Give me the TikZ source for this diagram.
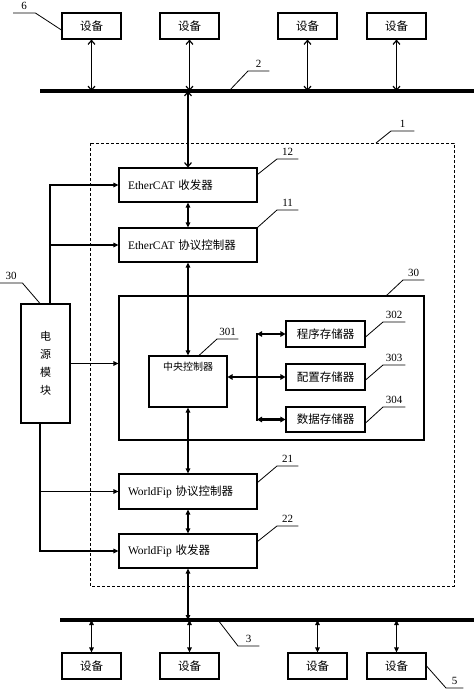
\documentclass[tikz,border=0pt]{standalone}
\usepackage{fontspec}
\setmainfont{Liberation Serif}
\newfontfamily\cjk{Noto Sans CJK SC}
\usetikzlibrary{arrows.meta}

\tikzset{
  box/.style={draw, line width=1.1pt, inner sep=0pt},
  devbox/.style={box, minimum width=59pt, minimum height=26pt},
  blk/.style={box, minimum height=34pt, text width=120pt, inner xsep=9pt, align=left},
  mem/.style={box, minimum width=79pt, minimum height=26pt},
  num/.style={inner xsep=1pt, inner ysep=3pt, minimum width=21pt, anchor=south west, font=\fontsize{11}{12}\selectfont},
  lead/.style={line width=0.8pt},
  link/.style={line width=1.4pt, {Triangle[length=5pt,width=4.5pt]}-{Triangle[length=5pt,width=4.5pt]}},
  feed/.style={line width=1.4pt, -{Triangle[length=5pt,width=4.5pt]}},
  devlink/.style={line width=1.2pt, {Straight Barb[length=4pt,width=7pt]}-{Straight Barb[length=4pt,width=7pt]}},
  memlink/.style={line width=2.4pt, {Triangle[length=5pt,width=5.5pt]}-{Triangle[length=5pt,width=5.5pt]}},
  bus/.style={line width=3.2pt}
}

\begin{document}
\begin{tikzpicture}[x=1pt, y=-1pt, font=\fontsize{11.5}{14}\selectfont]
    \useasboundingbox (0,0) rectangle (474,689);
    % devices on the upper bus
    \node[devbox] (t1) at (91.5,26) {\cjk 设备};
    \node[devbox] (t2) at (189.5,26) {\cjk 设备};
    \node[devbox] (t3) at (307.5,26) {\cjk 设备};
    \node[devbox] (t4) at (396.5,26) {\cjk 设备};
    \coordinate (busT) at (40,91);
    \coordinate (busTend) at (474,91);
    \draw[bus] (busT) -- (busTend);
    \foreach \d in {t1,t2,t3,t4}
        \draw[devlink] (\d.south) -- (\d.south |- busT);
    % frame of the unit
    \draw[line width=0.9pt, dash pattern=on 3pt off 2pt] (90,143) rectangle (454,586);
    % EtherCAT side
    \node[blk] (ectr) at (188,185) {EtherCAT {\cjk 收发器}};
    \node[blk] (ecctl) at (188,245) {EtherCAT {\cjk 协议控制器}};
    \draw[devlink] (ectr.north |- busT) -- (ectr.north);
    \draw[link] (ectr.south) -- (ecctl.north);
    % control module
    \node[box, minimum width=305pt, minimum height=144pt] (ctrl) at (271.5,368) {};
    \node[box, minimum width=78pt, minimum height=51pt,
          label={[anchor=north, yshift=-3pt, font=\cjk]north:中央控制器}] (cpu) at (188,381.5) {};
    \node[mem] (prog) at (325.5,334) {\cjk 程序存储器};
    \node[mem] (cfg) at (325.5,377) {\cjk 配置存储器};
    \node[mem, minimum height=25pt] (data) at (325.5,419.5) {\cjk 数据存储器};
    \coordinate (mb) at (257,0);
    \draw[line width=2.4pt, line cap=rect] (mb |- prog) -- (mb |- data);
    \draw[memlink] (mb |- prog) -- (prog.west);
    \draw[memlink] (cpu.east |- cfg) -- (cfg.west);
    \draw[memlink] (mb |- data) -- (data.west);
    \draw[link] (ecctl.south) -- (cpu.north);
    % WorldFip side
    \node[blk, minimum height=35pt] (wfctl) at (188,491.5) {WorldFip {\cjk 协议控制器}};
    \node[blk] (wftr) at (188,551) {WorldFip {\cjk 收发器}};
    \draw[link] (cpu.south) -- (wfctl.north);
    \draw[link] (wfctl.south) -- (wftr.north);
    % power module
    \node[box, minimum width=49pt, minimum height=119pt, align=center,
          font=\fontsize{11}{18}\selectfont\cjk] (pwr) at (45.5,363.5) {电\\源\\模\\块};
    \coordinate (pT) at (50,0);
    \coordinate (pB) at (40,0);
    \draw[feed] (pwr.north -| pT) |- (ectr.west);
    \draw[feed] (pT |- ecctl.west) -- (ecctl.west);
    \draw[feed] (pwr.south -| pB) |- (wftr.west);
    \draw[feed] (pB |- wfctl.west) -- (wfctl.west);
    \draw[feed] (pwr.east) -- (pwr.east -| ctrl.west);
    % lower bus and its devices
    \coordinate (busB) at (60,620);
    \coordinate (busBend) at (474,620);
    \draw[bus] (busB) -- (busBend);
    \draw[link] (wftr.south) -- (wftr.south |- busB);
    \node[devbox] (b1) at (91.5,666) {\cjk 设备};
    \node[devbox] (b2) at (189.5,666) {\cjk 设备};
    \node[devbox] (b3) at (317.5,666) {\cjk 设备};
    \node[devbox] (b4) at (396.5,666) {\cjk 设备};
    \foreach \d in {b1,b2,b3,b4}
        \draw[link] (\d.north |- busB) -- (\d.north);
    % reference numbers
    \node[num, minimum width=22pt] (n6) at (13,13) {6};
    \draw[lead] ([yshift=-4pt]t1.west) -- (n6.south east) -- (n6.south west);
    \node[num] (n2) at (248,71) {2};
    \draw[lead] (n2.south east) -- (n2.south west) -- (229,91);
    \node[num, minimum width=23pt] (n1) at (391,131) {1};
    \draw[lead] (n1.south east) -- (n1.south west) -- (376,143);
    \node[num] (n12) at (277,159) {12};
    \draw[lead] ([yshift=-7pt]ectr.north east) -- (n12.south west) -- (n12.south east);
    \node[num] (n11) at (277,210) {11};
    \draw[lead] (ecctl.north east) -- (n11.south west) -- (n11.south east);
    \node[num, minimum width=22pt] (n30a) at (0,283) {30};
    \draw[lead] (n30a.south west) -- (n30a.south east) -- ([xshift=-5.5pt]pwr.north);
    \node[num] (n30b) at (403,280) {30};
    \draw[lead] ([xshift=-38pt]ctrl.north east) -- (n30b.south west) -- (n30b.south east);
    \node[num] (n301) at (217,339) {301};
    \draw[lead] ([xshift=11pt]cpu.north) -- (n301.south west) -- (n301.south east);
    \node[num, minimum width=22pt] (n302) at (383,322) {302};
    \draw[lead] ([yshift=-3pt]prog.east) -- (n302.south west) -- (n302.south east);
    \node[num, minimum width=22pt] (n303) at (383,365) {303};
    \draw[lead] ([yshift=-3pt]cfg.east) -- (n303.south west) -- (n303.south east);
    \node[num, minimum width=22pt] (n304) at (383,407) {304};
    \draw[lead] ([yshift=-3.5pt]data.east) -- (n304.south west) -- (n304.south east);
    \node[num] (n21) at (277,466) {21};
    \draw[lead] ([yshift=-9pt]wfctl.north east) -- (n21.south west) -- (n21.south east);
    \node[num] (n22) at (277,526) {22};
    \draw[lead] ([yshift=-8pt]wftr.north east) -- (n22.south west) -- (n22.south east);
    \node[num] (n3) at (238,646) {3};
    \draw[lead] (218,620) -- (n3.south west) -- (n3.south east);
    \node[num, minimum width=17pt] (n5) at (446,688) {5};
    \draw[lead] (b4.east) -- (n5.south west) -- (n5.south east);
\end{tikzpicture}
\end{document}
